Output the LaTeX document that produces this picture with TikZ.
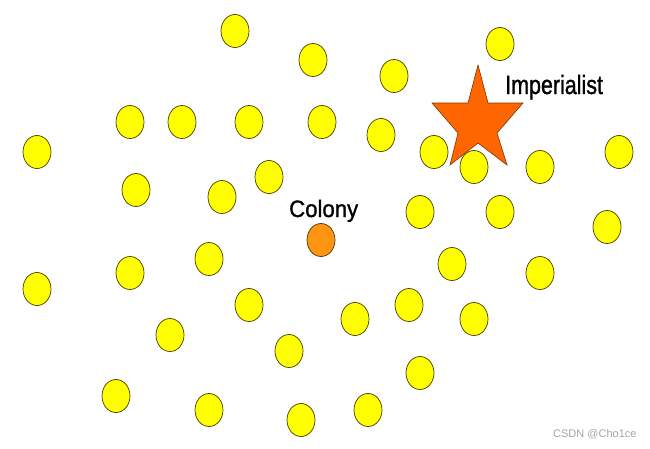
\documentclass[tikz,border=0pt]{standalone}
\usepackage{graphicx}
\usepackage{fontspec}
\setmainfont{Liberation Sans}
\newfontfamily\heavylbl[FakeBold=1.2]{Liberation Sans}
\usetikzlibrary{shapes.geometric}
\definecolor{dotyellow}{RGB}{255,255,0}
\definecolor{dotedge}{RGB}{70,60,0}
\definecolor{colonyorange}{RGB}{255,148,16}
\definecolor{starorange}{RGB}{255,102,0}
\definecolor{staredge}{RGB}{130,50,0}
\definecolor{wmgrey}{RGB}{165,165,165}
\tikzset{
  dot/.style={ellipse, draw=dotedge, fill=dotyellow, line width=0.7pt,
    minimum width=28pt, minimum height=33pt, inner sep=0pt},
  colonydot/.style={dot, fill=colonyorange},
  lbl/.style={anchor=base west, inner sep=0pt, text=black}
}
\begin{document}
\begin{tikzpicture}[x=1pt,y=-1pt]
\useasboundingbox[fill=white] (0,0) rectangle (650,448);
% yellow countries
\node[dot] (c1) at (235,31) {};
\node[dot] (c2) at (313,60) {};
\node[dot] (c3) at (394,76) {};
\node[dot] (c4) at (500,44) {};
\node[dot] (c5) at (130,122) {};
\node[dot] (c6) at (182,122) {};
\node[dot] (c7) at (249,122) {};
\node[dot] (c8) at (322,122) {};
\node[dot] (c9) at (381,135) {};
\node[dot] (c10) at (434,152) {};
\node[dot] (c11) at (474,167) {};
\node[dot] (c12) at (540,167) {};
\node[dot] (c13) at (619,152) {};
\node[dot] (c14) at (37,152) {};
\node[dot] (c15) at (136,190) {};
\node[dot] (c16) at (222,197) {};
\node[dot] (c17) at (269,177) {};
\node[dot] (c18) at (420,212) {};
\node[dot] (c19) at (500,212) {};
\node[dot] (c20) at (607,227) {};
\node[dot] (c21) at (209,259) {};
\node[dot] (c22) at (130,273) {};
\node[dot] (c23) at (37,289) {};
\node[dot] (c24) at (452,264) {};
\node[dot] (c25) at (540,273) {};
\node[dot] (c26) at (249,305) {};
\node[dot] (c27) at (170,335) {};
\node[dot] (c28) at (355,319) {};
\node[dot] (c29) at (409,305) {};
\node[dot] (c30) at (474,319) {};
\node[dot] (c31) at (289,351) {};
\node[dot] (c32) at (420,373) {};
\node[dot] (c33) at (116,396) {};
\node[dot] (c34) at (209,410) {};
\node[dot] (c35) at (301,420) {};
\node[dot] (c36) at (368,410) {};
% colony
\node[colonydot] (colony) at (321,240) {};
% imperialist star
\draw[fill=starorange, draw=staredge, line width=0.6pt, line join=miter]
  (478,65) -- (488,103) -- (523,103) -- (497,133) -- (507,165) --
  (478,143) -- (450,165) -- (458,133) -- (432,103) -- (468,103) -- cycle;
% labels
\node[lbl, font=\heavylbl\fontsize{26.5}{30}\selectfont] (implbl) at (505,94) {\scalebox{0.81}[1]{Imperialist}};
\node[lbl, font=\heavylbl\fontsize{23.7}{28}\selectfont] (collbl) at (289,217) {\scalebox{0.935}[1]{Colony}};
\node[lbl, font=\fontsize{11}{13}\selectfont, text=wmgrey] (wm) at (553,437) {CSDN @Cho1ce};
\end{tikzpicture}
\end{document}
